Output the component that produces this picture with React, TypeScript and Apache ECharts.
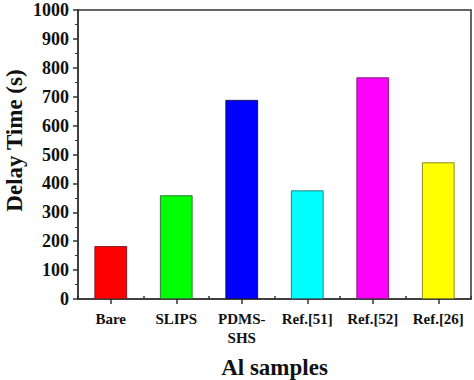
import React, { useEffect, useRef } from "react";
import * as echarts from "echarts";

const categories = ["Bare", "SLIPS", "PDMS-\nSHS", "Ref.[51]", "Ref.[52]", "Ref.[26]"];
const delayValues = [183, 359, 689, 376, 767, 473];
const barColors = ["#ff0000", "#00ff00", "#0000ff", "#00ffff", "#ff00ff", "#ffff00"];
const borderColors = ["#8b1a1a", "#2e7d32", "#101060", "#2a7f7f", "#7a1f7a", "#8a8a20"];
const yTicks = { min: 0, max: 1000, interval: 100 };

export default function App() {
  const ref = useRef<HTMLDivElement>(null);
  useEffect(() => {
    if (!ref.current) return;
    const chart = echarts.init(ref.current, undefined, { renderer: "svg" });
    const font = "'Liberation Serif', 'Times New Roman', serif";
    chart.setOption({
      animation: false,
      backgroundColor: "#ffffff",
      grid: {
        left: 78,
        right: 3,
        top: 10,
        bottom: 81,
        outerBoundsMode: "none",
        containLabel: false,
        show: true,
        borderColor: "#333",
        borderWidth: 1.5,
        backgroundColor: "transparent",
      },
      xAxis: [
        {
          type: "category",
          data: categories,
          position: "bottom",
          name: "Al samples",
          nameLocation: "middle",
          nameGap: 57,
          nameMoveOverlap: false,
          nameTextStyle: { fontFamily: font, fontWeight: "bold", fontSize: 23, color: "#111" },
          axisLine: { lineStyle: { color: "#333", width: 1.5 } },
          axisTick: { show: true, alignWithLabel: true, length: 5, lineStyle: { color: "#333", width: 1.5 } },
          axisLabel: {
            interval: 0,
            fontFamily: font,
            fontWeight: "bold",
            fontSize: 15,
            color: "#111",
            margin: 10,
            lineHeight: 19,
          },
        },
        {
          type: "category",
          data: categories,
          position: "bottom",
          axisLine: { show: false },
          axisTick: { show: true, alignWithLabel: false, inside: true, length: 3, lineStyle: { color: "#333", width: 1.5 } },
          axisLabel: { show: false },
        },
      ],
      yAxis: {
        type: "value",
        min: yTicks.min,
        max: yTicks.max,
        interval: yTicks.interval,
        name: "Delay Time (s)",
        nameLocation: "middle",
        nameGap: 52,
        nameMoveOverlap: false,
        nameTextStyle: {
          fontFamily: font,
          fontWeight: "bold",
          fontSize: 23,
          lineHeight: 23,
          color: "#111",
          padding: [0, 0, 0, 28],
        },
        splitLine: { show: false },
        axisLine: { show: true, lineStyle: { color: "#333", width: 1.5 } },
        axisTick: { show: true, length: 5, lineStyle: { color: "#333", width: 1.5 } },
        minorTick: { show: true, splitNumber: 2, length: 3, lineStyle: { color: "#333", width: 1 } },
        axisLabel: {
          formatter: (v: number) => String(v),
          fontFamily: font,
          fontWeight: "bold",
          fontSize: 18,
          color: "#111",
          margin: 9,
        },
      },
      series: [
        {
          type: "bar",
          barWidth: "50%",
          data: delayValues.map((v, i) => ({
            value: v,
            itemStyle: { color: barColors[i], borderColor: borderColors[i], borderWidth: 1 },
          })),
        },
      ],
    });
    return () => chart.dispose();
  }, []);
  return (
    <div
      ref={ref}
      style={{ position: "absolute", left: 0, top: 0, width: 474, height: 380 }}
    />
  );
}
